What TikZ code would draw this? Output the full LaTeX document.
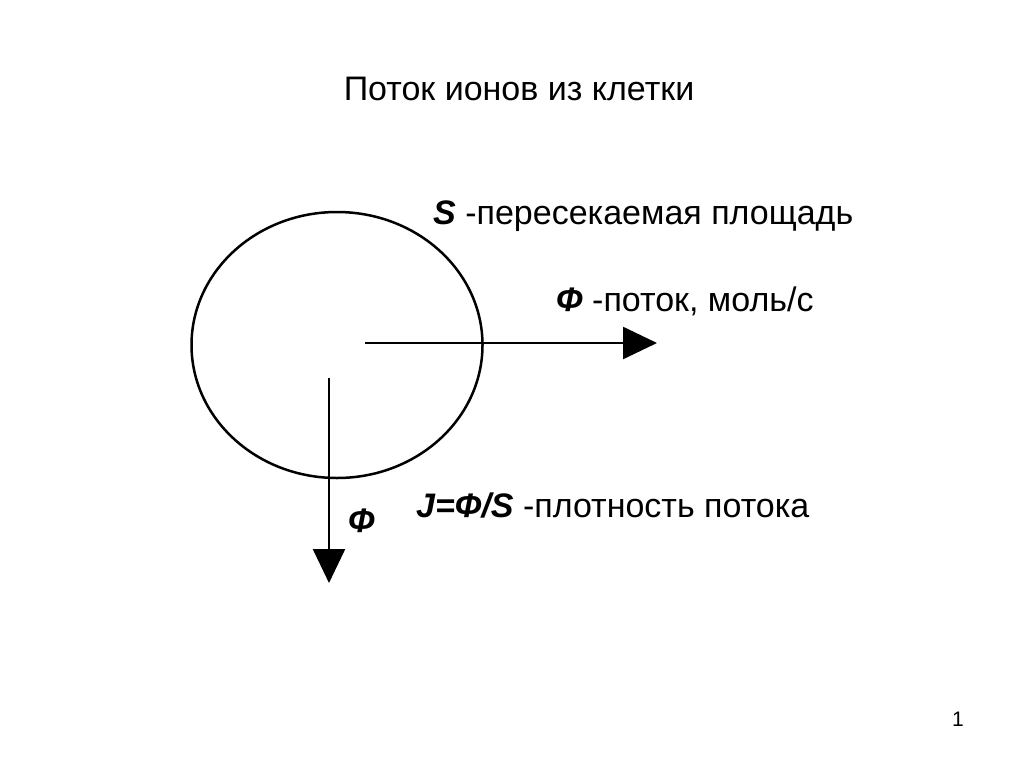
\documentclass[tikz,border=0pt]{standalone}
\usepackage{fontspec}
\setmainfont{Liberation Sans}
\usetikzlibrary{arrows.meta}
\tikzset{
  flux/.style={line width=2.5pt, -{Triangle[length=34pt,width=32pt]}},
  lbl/.style={anchor=base west, inner sep=0pt, font=\fontsize{34}{40}\selectfont}
}
\begin{document}
\begin{tikzpicture}[x=1pt,y=-1pt]
	\useasboundingbox (0,0) rectangle (1024,768);
	\node[anchor=base, inner sep=0pt, font=\fontsize{34}{40}\selectfont] (title) at (519,100) {Поток ионов из клетки};
	\draw[line width=2.5pt] (337,345) ellipse [x radius=145.5, y radius=133];
	\coordinate (c0) at (365,343);
	\coordinate (c1) at (657,343);
	\coordinate (d0) at (329,378);
	\coordinate (d1) at (329,583);
	\draw[flux] (c0) -- (c1);
	\draw[flux] (d0) -- (d1);
	\node[lbl] (area) at (433,224) {\textbf{\textit{S}} -пересекаемая площадь};
	\node[lbl] (flow) at (556,311) {\textbf{\textit{Ф}} -поток, моль/с};
	\node[lbl] (dens) at (416,517) {\textbf{\textit{J=Ф/S}} -плотность потока};
	\node[lbl] (phi) at (348,532) {\textbf{\textit{Ф}}};
	\node[anchor=base, inner sep=0pt, font=\fontsize{21}{24}\selectfont] (page) at (958,726) {1};
\end{tikzpicture}
\end{document}
